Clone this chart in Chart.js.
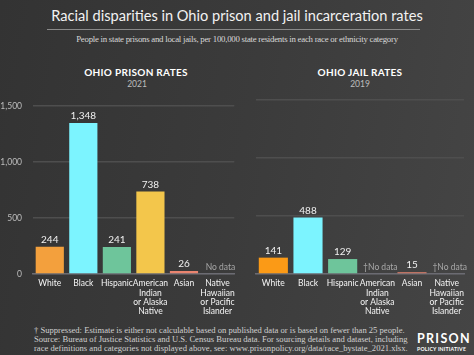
<!DOCTYPE html>
<html>
<head>
<meta charset="utf-8">
<script src="https://cdn.jsdelivr.net/npm/chart.js@4"></script>
<style>
body{margin:0;width:474px;height:355px;overflow:hidden;
background:linear-gradient(100deg,#333 0%,#3b3b3b 50%,#454545 100%);
font-family:Lato,sans-serif;color:#fff;position:relative}
.abs{position:absolute;white-space:nowrap}
#title{left:0;width:474px;top:7px;text-align:center;font-size:14.6px;color:#f2f2f2}
#rule{left:47px;width:373px;top:29px;height:1px;background:#8a8a8a}
#sub{left:0;width:474px;top:34px;text-align:center;font-family:"Liberation Serif",serif;font-size:8.8px;letter-spacing:-0.25px;color:#d8d8d8}
.head{font-size:10px;font-weight:bold;text-align:center;width:160px;letter-spacing:0.3px}
.year{font-size:8.5px;color:#bdbdbd;text-align:center;width:160px}
.foot{left:34px;font-family:"Liberation Serif",serif;font-size:8.6px;color:#d0d0d0}
canvas{position:absolute}
</style>
</head>
<body>
<div class="abs" id="title">Racial disparities in Ohio prison and jail incarceration rates</div>
<div class="abs" id="rule"></div>
<div class="abs" id="sub">People in state prisons and local jails, per 100,000 state residents in each race or ethnicity category</div>
<div class="abs head" style="left:56px;top:66px">OHIO PRISON RATES</div>
<div class="abs year" style="left:57px;top:79px">2021</div>
<div class="abs head" style="left:280px;top:66px">OHIO JAIL RATES</div>
<div class="abs year" style="left:280px;top:79px">2019</div>
<canvas id="prisonChart" style="left:0;top:90px" width="240" height="232"></canvas>
<canvas id="jailChart" style="left:240px;top:90px" width="234" height="232"></canvas>
<div class="abs foot" style="top:325px">† Suppressed: Estimate is either not calculable based on published data or is based on fewer than 25 people.</div>
<div class="abs foot" style="top:334px">Source: Bureau of Justice Statistics and U.S. Census Bureau data. For sourcing details and dataset, including</div>
<div class="abs foot" style="top:343px">race definitions and categories not displayed above, see: www.prisonpolicy.org/data/race_bystate_2021.xlsx.</div>
<div class="abs" style="left:417px;top:331px;font-size:12.5px;font-weight:bold;letter-spacing:1.3px;color:#fff">PRISON</div>
<div class="abs" style="left:417px;top:346px;font-size:5.2px;font-weight:bold;letter-spacing:0.2px;color:#fff">POLICY INITIATIVE</div>
<script>
const categories=[
'White',
'Black',
'Hispanic',
['American','Indian','or Alaska','Native'],
'Asian',
['Native','Hawaiian','or Pacific','Islander']
];
const prisonRates=[244,1348,241,738,26,null];
const jailRates=[141,488,129,null,15,null];
const yTicks=[0,500,1000,1500];
const prisonColors=['#f3a03d','#7cf4ff','#6ec59b','#f3c64b','#e9846f','#e9846f'];
const jailColors=['#fb9a16','#7cf4ff','#6ec59b','#f3c64b','#e9846f','#e9846f'];

const valueLabels={
id:'valueLabels',
afterDatasetsDraw(chart,args,opts){
const ctx=chart.ctx;
const meta=chart.getDatasetMeta(0);
const data=chart.data.datasets[0].data;
const base=chart.scales.y.getPixelForValue(0);
ctx.save();
ctx.textAlign='center';
ctx.textBaseline='middle';
meta.data.forEach((bar,i)=>{
const v=data[i];
if(v===null){
ctx.fillStyle='#a8a8a8';
ctx.font='8.5px Lato, sans-serif';
ctx.fillText(opts.missing,bar.x+3,base-7);
}else{
ctx.fillStyle='#f0f0f0';
ctx.font='10px Lato, sans-serif';
ctx.fillText(v.toLocaleString('en-US'),bar.x,bar.y-7);
}
});
ctx.restore();
}
};

function makeChart(id,values,colors,showTicks,missing,leftWidth){
return new Chart(document.getElementById(id),{
type:'bar',
data:{
labels:categories,
datasets:[{
data:values,
backgroundColor:colors,
borderWidth:0,
barPercentage:0.84,
categoryPercentage:1
}]
},
options:{
responsive:false,
animation:false,
layout:{padding:{top:10,right:showTicks?3:10,left:0,bottom:0}},
plugins:{legend:{display:false},tooltip:{enabled:false},valueLabels:{missing:missing}},
scales:{
x:{
grid:{display:false,drawTicks:false},
border:{color:'#6b6b72',width:1.5},
ticks:{
color:'#f5f5f5',
font:{family:'Lato',size:8.5,lineHeight:1.08},
padding:5,
autoSkip:false,
maxRotation:0,
minRotation:0
},
afterFit(s){s.height=48;}
},
y:{
min:0,
max:1500,
afterBuildTicks(s){s.ticks=yTicks.map(v=>({value:v}));},
grid:{color:'#4e4e4e',lineWidth:1.5,drawTicks:false},
border:{display:false},
ticks:{
display:showTicks,
color:'#bdbdbd',
font:{family:'Lato',size:8.5},
padding:11,
callback:v=>v===0?'0':v.toLocaleString('en-US')
},
afterFit(s){s.width=leftWidth;}
}
}
},
plugins:[valueLabels]
});
}

makeChart('prisonChart',prisonRates,prisonColors,true,'No data',33);
makeChart('jailChart',jailRates,jailColors,false,'\u2020No data',16);
</script>
</body>
</html>
